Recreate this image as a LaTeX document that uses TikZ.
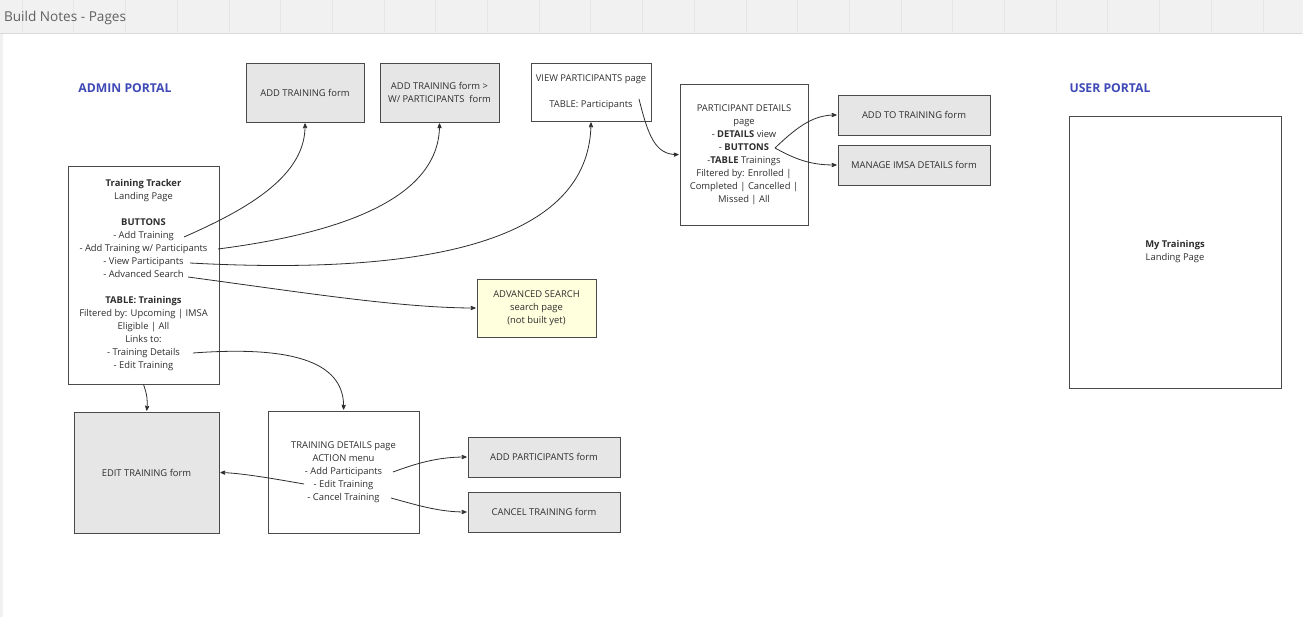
\documentclass[tikz,border=0pt]{standalone}
\usepackage{fontspec}
\setmainfont{Open Sans}
\usetikzlibrary{arrows}

\definecolor{inkgray}{HTML}{2E2E2E}
\definecolor{edgegray}{HTML}{4A4A4A}
\definecolor{formgray}{HTML}{E6E6E6}
\definecolor{notbuilt}{HTML}{FFFFDD}
\definecolor{portalblue}{HTML}{3F4AB7}
\definecolor{bandgray}{HTML}{F1F1F1}
\definecolor{gridgray}{HTML}{E6E6E6}

\begin{document}
\begin{tikzpicture}[->,>=stealth',shorten >=1pt,x=1pt,y=-1pt,
        every node/.style={font=\fontsize{9.4}{13}\selectfont,text=inkgray,align=center},
        page/.style={draw=edgegray,line width=0.8pt,fill=white,inner sep=0pt},
        form/.style={page,fill=formgray},
        portal/.style={font=\fontsize{12.2}{14}\selectfont\bfseries,text=portalblue},
        link/.style={draw=inkgray,line width=0.8pt}]
  \useasboundingbox (0,0) rectangle (1303,617);
  % board background
  \fill[bandgray] (0,0) rectangle (1303,617);
  \fill[white] (3,34) rectangle (1303,617);
  \foreach \i in {0,...,24}
    \draw[-,gridgray,line width=0.6pt] (22+51.7*\i,0) -- (22+51.7*\i,33);
  \draw[-,black!15,line width=0.8pt] (0,33.5) -- (1303,33.5);
  \node[anchor=west,font=\fontsize{13.6}{16}\selectfont,text=black!62] (title) at (0.5,18) {Build Notes - Pages};

  % admin portal
  \node[portal] (admin) at (125,88) {ADMIN PORTAL};
  \node[page,minimum width=151,minimum height=218] (tracker) at (143.5,275)
    {\textbf{Training Tracker}\\Landing Page\\[13pt]\textbf{BUTTONS}\\- Add Training\\
     - Add Training w/ Participants\\- View Participants\\- Advanced Search\\[13pt]
     \textbf{TABLE: Trainings}\\Filtered by: Upcoming | IMSA\\Eligible | All\\Links to:\\
     - Training Details\\- Edit Training};
  \node[form,minimum width=118,minimum height=59] (addtr) at (305,92.5) {ADD TRAINING form};
  \node[form,minimum width=119,minimum height=59] (addtrp) at (439.5,92.5)
    {ADD TRAINING form >\\W/ PARTICIPANTS\ \ form};
  \node[page,minimum width=120,minimum height=58] (viewp) at (591,92)
    {VIEW PARTICIPANTS page\\[13pt]TABLE: Participants};
  \node[page,minimum width=128,minimum height=141] (pdet) at (744,154.5)
    {PARTICIPANT DETAILS\\page\\- \textbf{DETAILS} view\\- \textbf{BUTTONS}\\
     -\textbf{TABLE} Trainings\\Filtered by: Enrolled |\\Completed | Cancelled |\\Missed | All};
  \node[form,minimum width=152,minimum height=40] (addto) at (914,115) {ADD TO TRAINING form};
  \node[form,minimum width=152,minimum height=40] (imsa) at (914,165) {MANAGE IMSA DETAILS form};
  \node[page,fill=notbuilt,minimum width=119,minimum height=58] (advs) at (536.5,308)
    {ADVANCED SEARCH\\search page\\(not built yet)};
  \node[form,minimum width=145,minimum height=121] (edittr) at (146.5,472.5) {EDIT TRAINING form};
  \node[page,minimum width=151,minimum height=122] (trdet) at (343.5,472)
    {TRAINING DETAILS page\\ACTION menu\\- Add Participants\\- Edit Training\\- Cancel Training};
  \node[form,minimum width=152,minimum height=40] (addpart) at (544,457) {ADD PARTICIPANTS form};
  \node[form,minimum width=152,minimum height=40] (canceltr) at (544,512) {CANCEL TRAINING form};

  % user portal
  \node[portal] (user) at (1110,88) {USER PORTAL};
  \node[page,minimum width=212,minimum height=272] (mytr) at (1175,252)
    {\textbf{My Trainings}\\Landing Page};

  % where the links leave the text
  \coordinate (btnAdd) at (184,237);
  \coordinate (btnAddP) at (218,249);
  \coordinate (btnView) at (190,263);
  \coordinate (btnAdv) at (188,277);
  \coordinate (lnkDet) at (193,353);
  \coordinate (tblPart) at (639,99);
  \coordinate (pdBtn) at (775,148);
  \coordinate (actAdd) at (393,472);
  \coordinate (actEdit) at (304,484);
  \coordinate (actCancel) at (391,498);

  \draw[link] (btnAdd) .. controls (250,208) and (306,175) .. (addtr.south);
  \draw[link] (btnAddP) .. controls (350,232) and (440,195) .. (addtrp.south);
  \draw[link] (btnView) .. controls (470,278) and (590,225) .. (viewp.south);
  \draw[link] (btnAdv) .. controls (300,292) and (400,308) .. (advs.west);
  \draw[link] (tblPart) .. controls (648,135) and (655,155) .. (pdet.west);
  \draw[link] (pdBtn) .. controls (800,124) and (815,115) .. (addto.west);
  \draw[link] (pdBtn) .. controls (800,162) and (815,165) .. (imsa.west);
  \draw[link] (lnkDet) .. controls (300,345) and (345,365) .. (trdet.north);
  \draw[link] (tracker.south) .. controls (147,395) and (148,400) .. (edittr.north);
  \draw[link] (actEdit) .. controls (270,478) and (240,473) .. (edittr.east);
  \draw[link] (actAdd) .. controls (420,462) and (440,457) .. (addpart.west);
  \draw[link] (actCancel) .. controls (420,506) and (440,512) .. (canceltr.west);
\end{tikzpicture}
\end{document}
